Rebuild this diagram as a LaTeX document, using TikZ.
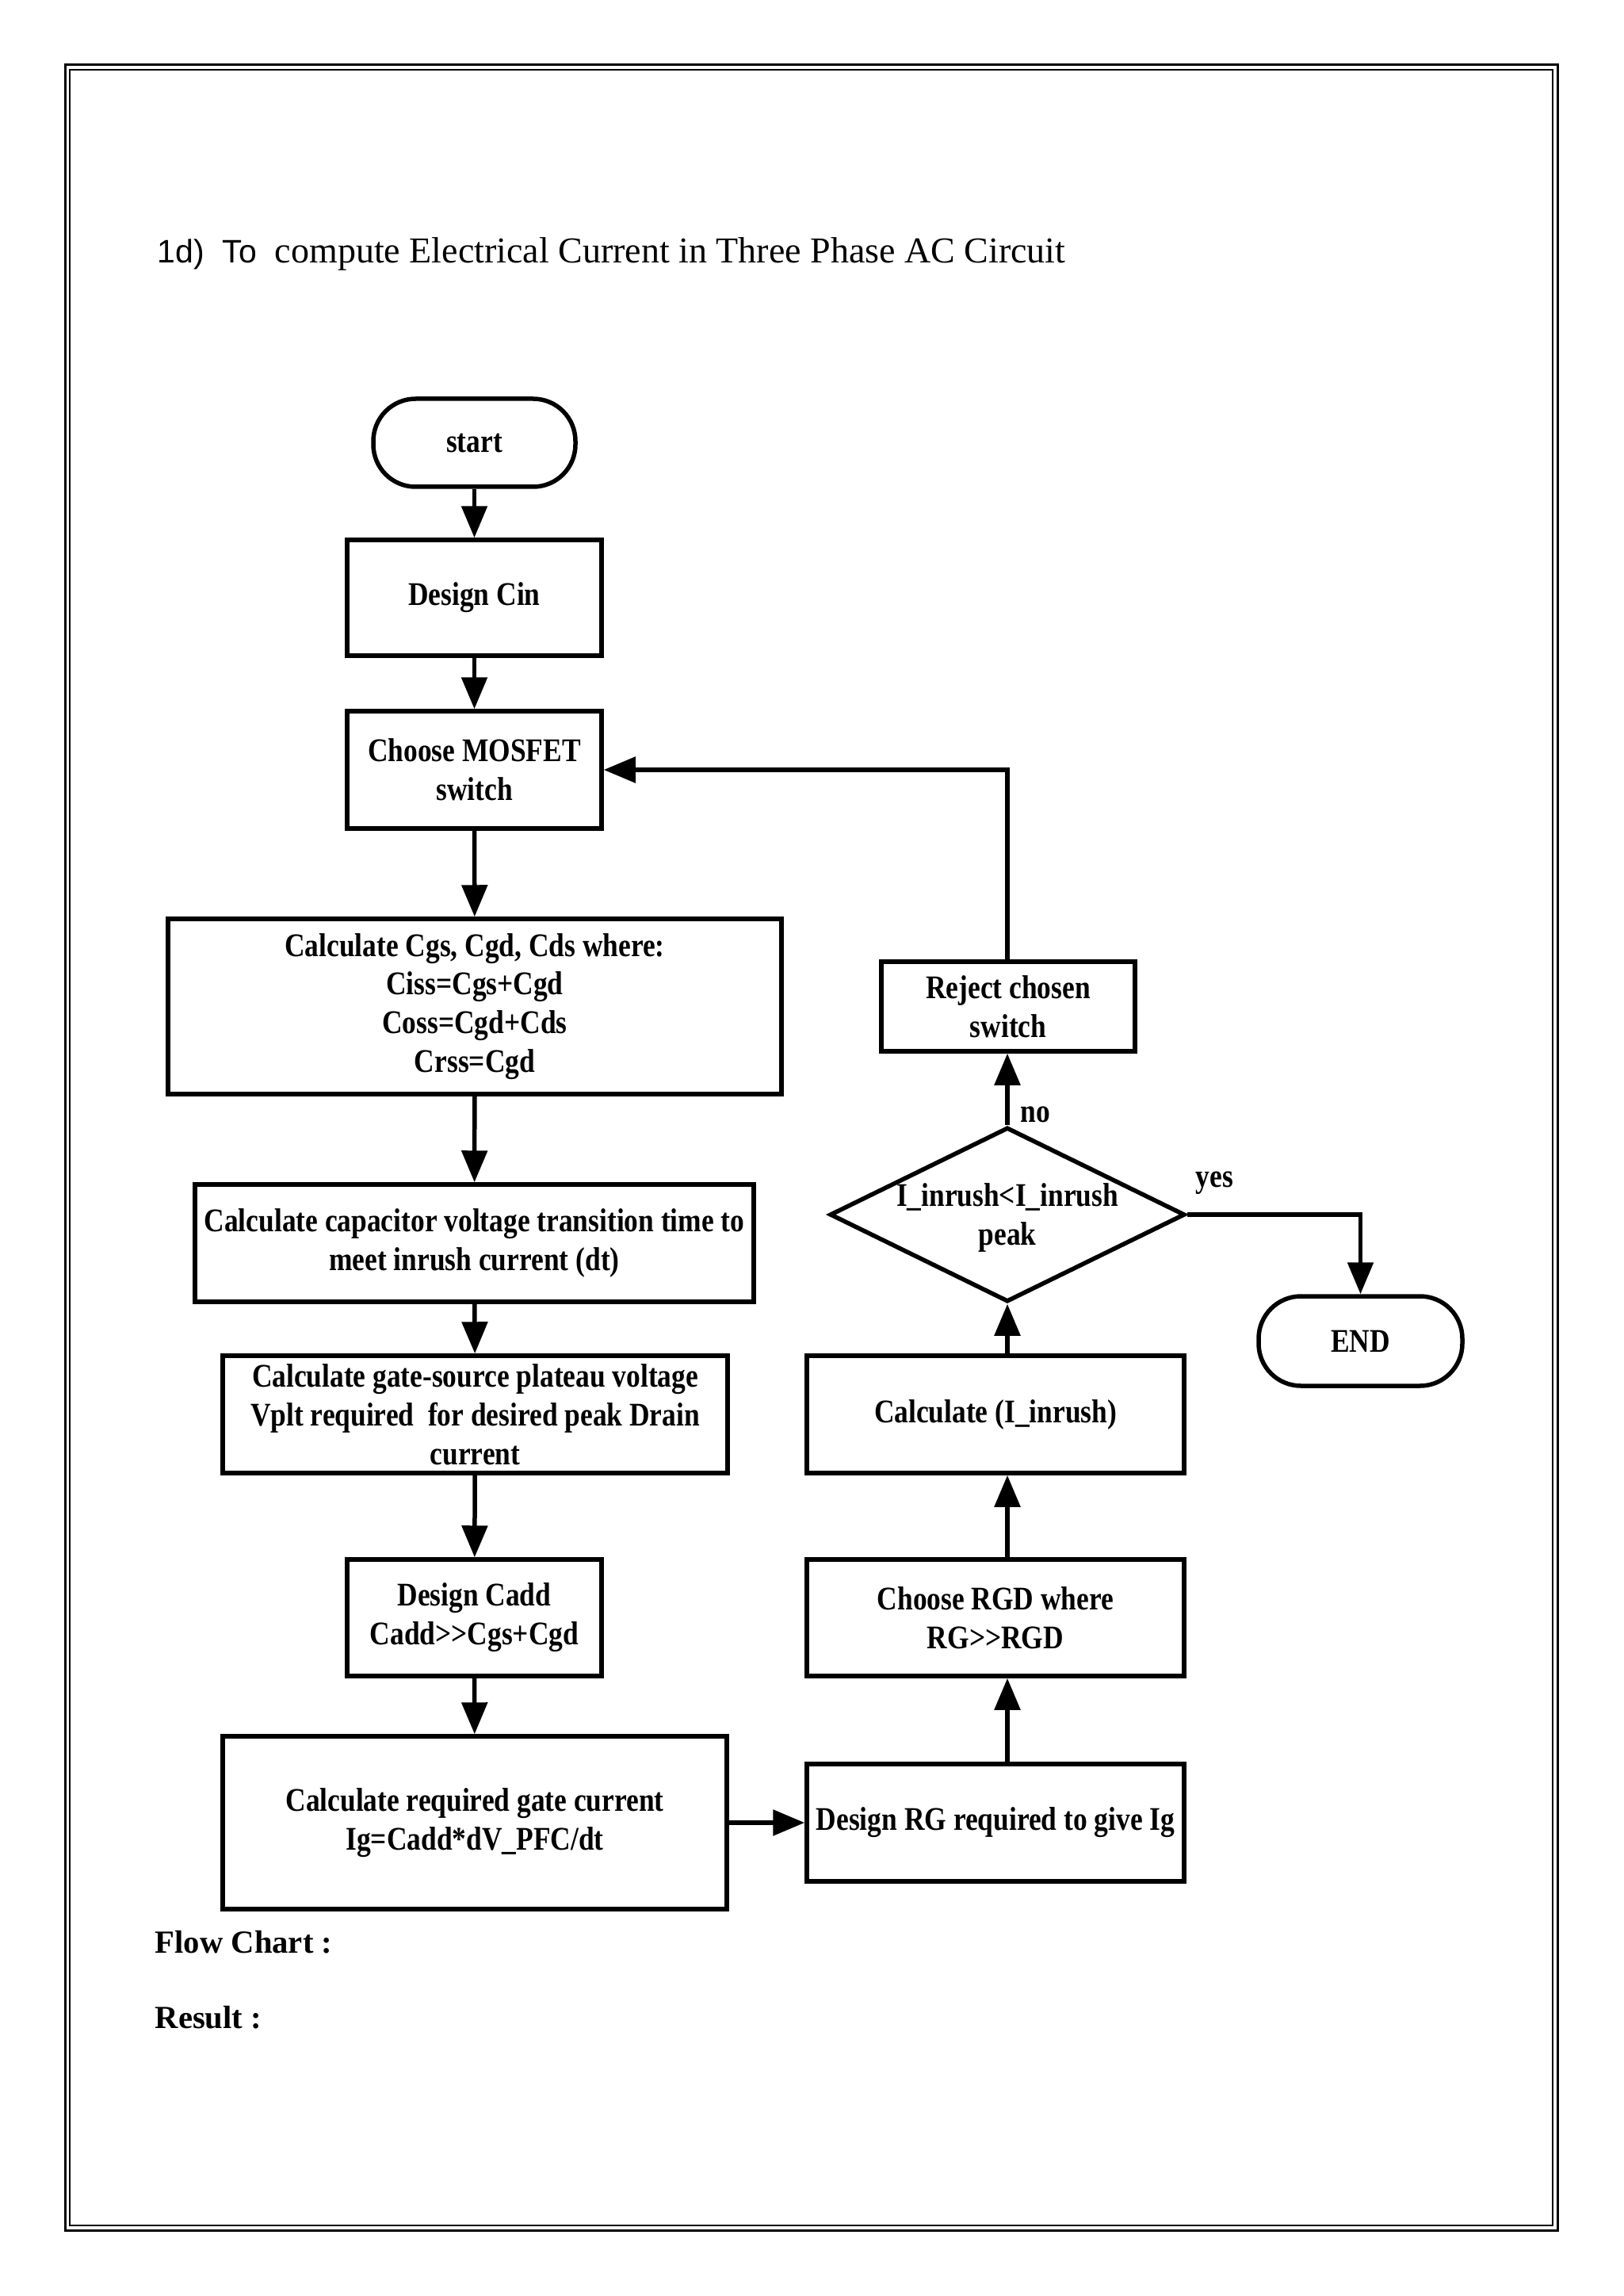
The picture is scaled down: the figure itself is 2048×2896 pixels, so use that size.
\documentclass[tikz,border=0pt]{standalone}
\usepackage{fontspec}
\setmainfont{Liberation Serif}
\setsansfont{Liberation Sans}
\newfontfamily\fcfont[FakeStretch=0.85]{Liberation Serif}
\usetikzlibrary{arrows.meta,shapes.geometric,calc}
\begin{document}
\begin{tikzpicture}[x=0.3pt,y=-0.3pt,
  fc/.style={font=\fcfont\bfseries\fontsize{12.5}{14.65}\selectfont, align=center},
  box/.style={fc, draw, line width=1.65pt, rectangle, inner sep=1pt},
  term/.style={box, rounded corners=16pt},
  dec/.style={draw, line width=1.65pt, diamond, inner sep=0pt, minimum width=134.4pt, minimum height=66pt},
  txt/.style={fc, inner sep=0pt},
  lbl/.style={font=\bfseries\fontsize{12.2}{14.4}\selectfont, inner sep=0pt, anchor=base west},
  arr/.style={line width=1.65pt, -{Triangle[length=12pt,width=9.6pt]}}]
\useasboundingbox (0,0) rectangle (2048,2896);
% page border
\draw[line width=0.9pt] (82,82) rectangle (1965,2813);
\draw[line width=0.5pt] (88,88) rectangle (1959,2807);
% title
\node[anchor=base west, font=\fontsize{13.8}{16}\selectfont, inner sep=0pt] (title) at (198,332)
  {{\sffamily\fontsize{12.3}{15}\selectfont 1d)\ \ To\ \ }compute Electrical Current in Three Phase AC Circuit};
% left column
\node[term, minimum width=76.5pt, minimum height=33.3pt] (start) at (598.5,558.5) {start};
\node[box, minimum width=96.3pt, minimum height=43.8pt] (cin) at (598.5,754) {Design Cin};
\node[box, minimum width=96.3pt, minimum height=44.4pt] (mos) at (598.5,971) {Choose MOSFET\\switch};
\node[box, minimum width=232.2pt, minimum height=66.3pt] (cgs) at (599,1269.5)
  {Calculate Cgs, Cgd, Cds where:\\Ciss=Cgs+Cgd\\Coss=Cgd+Cds\\Crss=Cgd};
\node[box, minimum width=211.5pt, minimum height=44.4pt] (cap) at (598.5,1568)
  {Calculate capacitor voltage transition time to\\meet inrush current (dt)};
\node[box, minimum width=191.1pt, minimum height=44.4pt] (gs) at (599.5,1784)
  {Calculate gate-source plateau voltage\\Vplt required\ \ for desired peak Drain\\current};
\node[box, minimum width=96.3pt, minimum height=44.1pt] (cadd) at (598.5,2040.5)
  {Design Cadd\\Cadd>{}>Cgs+Cgd};
\node[box, minimum width=190.8pt, minimum height=65.4pt] (req) at (599,2299)
  {Calculate required gate current\\Ig=Cadd*dV\_PFC/dt};
% right column
\node[box, minimum width=142.8pt, minimum height=44.4pt] (rg) at (1256,2299)
  {Design RG required to give Ig};
\node[box, minimum width=142.8pt, minimum height=44.1pt] (rgd) at (1256,2040.5)
  {Choose RGD where\\RG>{}>RGD};
\node[box, minimum width=142.8pt, minimum height=44.4pt] (inr) at (1256,1784)
  {Calculate (I\_inrush)};
\node[dec] (dia) at (1271,1532) {};
\node[txt] (diat) at (1271,1536) {I\_inrush<I\_inrush\\peak};
\node[box, minimum width=96pt, minimum height=33.9pt] (rej) at (1272,1269.5)
  {Reject chosen\\switch};
\node[term, minimum width=77.1pt, minimum height=33.9pt] (end) at (1716.5,1691.5) {END};
% labels
\node[lbl, font=\fcfont\bfseries\fontsize{12.5}{14.4}\selectfont] (no) at (1287,1415) {no};
\node[lbl, font=\fcfont\bfseries\fontsize{12.5}{14.4}\selectfont] (yes) at (1508,1497) {yes};
% connectors
\draw[arr] (start) -- (cin);
\draw[arr] (cin) -- (mos);
\draw[arr] (mos) -- (cgs);
\draw[arr] (cgs) -- (cap);
\draw[arr] (cap) -- (gs);
\draw[arr] (gs) -- (cadd);
\draw[arr] (cadd) -- (req);
\draw[arr] (req.east) -- (req.east -| rg.west);
\draw[arr] (rg.north -| dia) -- (rgd.south -| dia);
\draw[arr] (rgd.north -| dia) -- (inr.south -| dia);
\draw[arr] (inr.north -| dia) -- (dia.south);
\draw[arr] (dia.north) -- (rej.south -| dia);
\draw[arr] (rej.north -| dia) |- (mos.east);
\draw[arr] (dia.east) -| (end.north);
% footer text
\node[lbl] (flow) at (195,2463) {Flow Chart :};
\node[lbl] (res) at (195,2558) {Result :};
\end{tikzpicture}
\end{document}
